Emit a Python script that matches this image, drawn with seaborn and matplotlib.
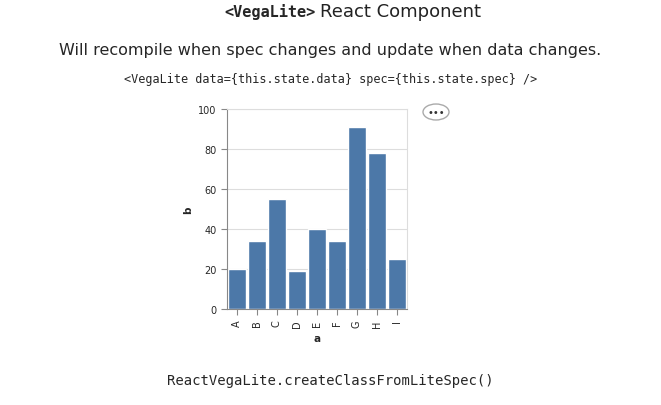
import matplotlib
matplotlib.use("Agg")
import matplotlib.pyplot as plt
import seaborn as sns
import pandas as pd
from matplotlib.patches import Circle

categories = ["A", "B", "C", "D", "E", "F", "G", "H", "I"]
values = [20, 34, 55, 19, 40, 34, 91, 78, 25]
yticks = [0, 20, 40, 60, 80, 100]

df = pd.DataFrame({"a": categories, "b": values})
sns.set_style("white")
plt.rcParams['font.family'] = ['DejaVu Sans']

W, H = 661, 406
fig = plt.figure(figsize=(W/100, H/100), dpi=100)
ax = fig.add_axes([227/W, 1-310/H, 180/W, 200/H])
sns.barplot(data=df, x="a", y="b", color="#4c78a8", saturation=1, width=0.92, ax=ax)
ax.set_ylim(0, 100)
ax.set_yticks(yticks)
ax.yaxis.grid(True, color="#dddddd", lw=0.8)
ax.set_axisbelow(True)
ax.set_xlim(-0.5, 8.5)
for s in ["top", "right"]:
    ax.spines[s].set_color("#dddddd")
for s in ["left", "bottom"]:
    ax.spines[s].set_color("#888888")
ax.tick_params(axis="both", labelsize=7, length=4, color="#888888", left=True, bottom=True)
plt.setp(ax.get_xticklabels(), rotation=90)
ax.set_xlabel("a", fontsize=7.5, fontweight="bold")
ax.set_ylabel("b", fontsize=7.5, fontweight="bold")

fig.text(316/W, 1-12/H, "<VegaLite>", family="DejaVu Sans Mono", fontweight="bold",
         fontsize=11, ha="right", va="center")
fig.text(320/W, 1-12/H, "React Component", fontsize=13, ha="left", va="center", color="#222222")
fig.text(0.5, 1-50/H, "Will recompile when spec changes and update when data changes.",
         fontsize=11.5, ha="center", va="center")
fig.text(0.5, 1-80/H, "<VegaLite data={this.state.data} spec={this.state.spec} />",
         family="DejaVu Sans Mono", fontsize=8.5, ha="center", va="center")
fig.text(0.5, 1-381/H, "ReactVegaLite.createClassFromLiteSpec()",
         family="DejaVu Sans Mono", fontsize=10, ha="center", va="center")

circ = Circle((436/W, 1-113/H), 13/W, transform=fig.transFigure, fc="white", ec="#aaaaaa", lw=1)
fig.patches.append(circ)
fig.text(436/W, 1-113/H, "•••", fontsize=7, ha="center", va="center", color="#333333")

fig.savefig("out.png", dpi=100)
